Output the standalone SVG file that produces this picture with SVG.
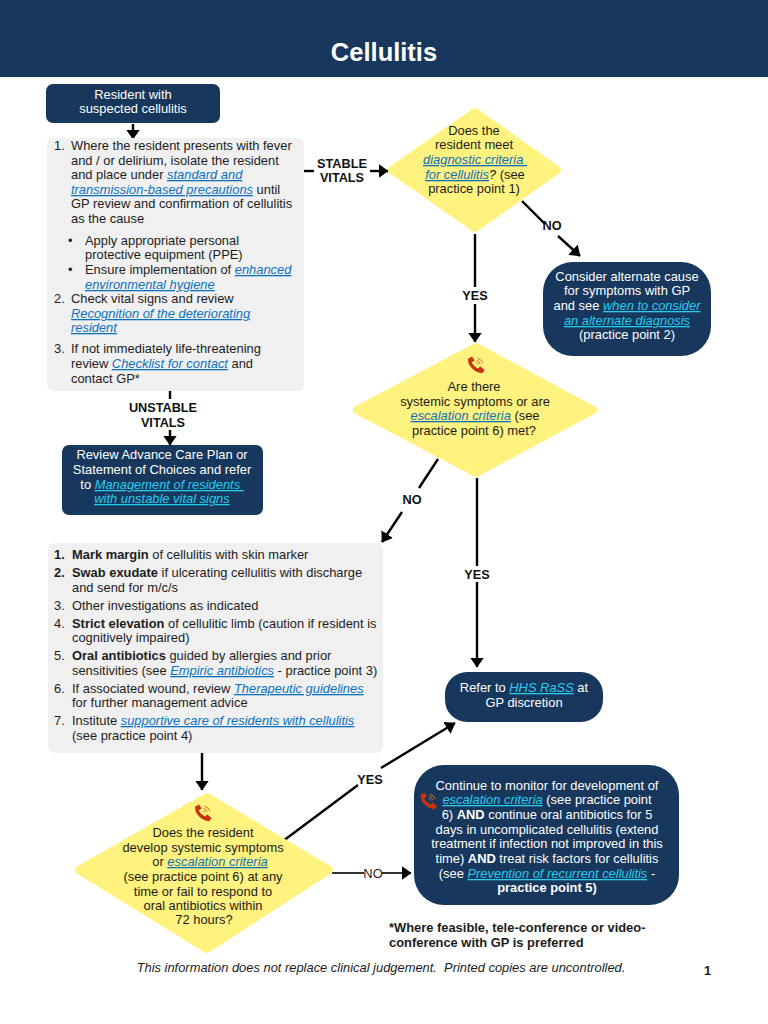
<svg xmlns="http://www.w3.org/2000/svg" width="768" height="1024" viewBox="0 0 768 1024">
<style>
text{font-family:"Liberation Sans",Arial,sans-serif;font-size:12.9px;fill:#1c1c1c}
.c{text-anchor:middle}
.w{fill:#fff}
.l{fill:#0a70c0;font-style:italic;text-decoration:underline}
.lw{fill:#25cdf0;font-style:italic;text-decoration:underline}
.i{font-style:italic}
.b{font-weight:700}
.lab{font-weight:700;text-anchor:middle;fill:#111;font-size:12.7px}
.dark{fill:#17375c}
.grey{fill:#f0f0f0}
.yel{fill:#fff27e;stroke:#fff27e;stroke-width:8;stroke-linejoin:round}
.ln{stroke:#000;stroke-width:2.4;fill:none}
.ah{fill:#000}
</style>
<defs>
<marker id="a" viewBox="0 0 10 14" refX="9.5" refY="7" markerWidth="10" markerHeight="14" markerUnits="userSpaceOnUse" orient="auto"><path class="ah" d="M0 0L10 7L0 14Z"/></marker>
<symbol id="ph" viewBox="0 0 20 20" overflow="visible">
<path d="M2.5 4C2 9 8 16 15.5 17" stroke="#c8340f" stroke-width="3.6" fill="none" stroke-linecap="round"/>
<path d="M0.5 3.5L5 0.5L8 5L4 7.5ZM11.5 14.5L14 11.5L19 15.5L16 19.5Z" fill="#c8340f"/>
<path d="M10 5A5 5 0 0 1 14 9M11 2.5A8 8 0 0 1 17 8M9.5 7.5A2.5 2.5 0 0 1 11.5 9.5" stroke="#d9762f" stroke-width="1.1" fill="none"/>
</symbol>
</defs>
<rect width="768" height="1024" fill="#fff"/>
<g id="header"><rect class="dark" width="768" height="77"/><text x="384" y="61" class="c w b" style="font-size:25.5px">Cellulitis</text></g>

<g id="connectors">
<path class="ln" marker-end="url(#a)" d="M133 124V139"/>
<path class="ln" d="M304 171H314"/>
<path class="ln" marker-end="url(#a)" d="M370 171H388"/>
<path class="ln" d="M522 201L545 224"/>
<path class="ln" marker-end="url(#a)" d="M558 236L580 256"/>
<path class="ln" d="M475 234V287"/>
<path class="ln" marker-end="url(#a)" d="M475 304V342"/>
<path class="ln" d="M170 391V399"/>
<path class="ln" marker-end="url(#a)" d="M170 430V445"/>
<path class="ln" d="M438 459L419 488"/>
<path class="ln" marker-end="url(#a)" d="M402 512L382 542"/>
<path class="ln" d="M477 478V566"/>
<path class="ln" marker-end="url(#a)" d="M477 582V667"/>
<path class="ln" marker-end="url(#a)" d="M202 753V790"/>
<path class="ln" d="M283 841L358 785"/>
<path class="ln" marker-end="url(#a)" d="M381 768L455 723"/>
<path class="ln" style="stroke-width:1.6" d="M332 873H364"/>
<path class="ln" style="stroke-width:1.6" marker-end="url(#a)" d="M382 873H411"/>
</g>

<g id="n-start"><rect class="dark" x="46" y="84" width="174" height="39" rx="7"/>
<text class="c w" x="133" y="99">Resident with</text><text class="c w" x="133" y="113">suspected cellulitis</text></g>

<g id="n-steps"><rect class="grey" x="47" y="138" width="257" height="253" rx="7"/>
<text x="54" y="150">1.</text>
<text x="71" y="150">Where the resident presents with fever</text>
<text x="71" y="165">and / or delirium, isolate the resident</text>
<text x="71" y="179">and place under <tspan class="l">standard and</tspan></text>
<text x="71" y="194"><tspan class="l">transmission-based precautions</tspan> until</text>
<text x="71" y="208">GP review and confirmation of cellulitis</text>
<text x="71" y="223">as the cause</text>
<text x="68" y="245">•</text>
<text x="85" y="245">Apply appropriate personal</text>
<text x="85" y="259">protective equipment (PPE)</text>
<text x="68" y="274">•</text>
<text x="85" y="274">Ensure implementation of <tspan class="l">enhanced</tspan></text>
<text x="85" y="289"><tspan class="l">environmental hygiene</tspan></text>
<text x="54" y="303">2.</text>
<text x="71" y="303">Check vital signs and review</text>
<text x="71" y="318"><tspan class="l">Recognition of the deteriorating</tspan></text>
<text x="71" y="332"><tspan class="l">resident</tspan></text>
<text x="54" y="353">3.</text>
<text x="71" y="353">If not immediately life-threatening</text>
<text x="71" y="368">review <tspan class="l">Checklist for contact</tspan> and</text>
<text x="71" y="383">contact GP*</text></g>

<g id="n-q1"><path class="yel" d="M475 112L557 170L475 228L392 170Z"/>
<text class="c" x="474" y="135">Does the</text>
<text class="c" x="474" y="149">resident meet</text>
<text class="c" x="475" y="164"><tspan class="l">diagnostic criteria&#160;</tspan></text>
<text class="c" x="475" y="179"><tspan class="l">for cellulitis</tspan><tspan class="i">?</tspan> (see</text>
<text class="c" x="474" y="193">practice point 1)</text></g>

<g id="n-alt"><rect class="dark" x="543" y="262" width="168" height="94" rx="30"/>
<text class="c w" x="627" y="281">Consider alternate cause</text>
<text class="c w" x="627" y="295">for symptoms with GP</text>
<text class="c w" x="627" y="310">and see <tspan class="lw">when to consider</tspan></text>
<text class="c w" x="627" y="325"><tspan class="lw">an alternate diagnosis</tspan></text>
<text class="c w" x="627" y="339">(practice point 2)</text></g>

<g id="n-q2"><path class="yel" d="M476 347L593 410L476 473L357 410Z"/>
<use href="#ph" x="466" y="356" width="21" height="18"/>
<text class="c" x="474" y="391">Are there</text>
<text class="c" x="475" y="406">systemic symptoms or are</text>
<text class="c" x="475" y="420"><tspan class="l">escalation criteria</tspan> (see</text>
<text class="c" x="474" y="435">practice point 6) met?</text></g>

<g id="n-acp"><rect class="dark" x="62" y="445" width="201" height="70" rx="7"/>
<text class="c w" x="162" y="459">Review Advance Care Plan or</text>
<text class="c w" x="162" y="474">Statement of Choices and refer</text>
<text class="c w" x="162" y="489">to <tspan class="lw">Management of residents&#160;</tspan></text>
<text class="c w" x="162" y="503"><tspan class="lw">with unstable vital signs</tspan></text></g>

<g id="n-actions"><rect class="grey" x="48" y="543" width="335" height="210" rx="7"/>
<text x="54" y="559" class="b">1.</text>
<text x="72" y="559"><tspan class="b">Mark margin</tspan> of cellulitis with skin marker</text>
<text x="54" y="577" class="b">2.</text>
<text x="72" y="577"><tspan class="b">Swab exudate</tspan> if ulcerating cellulitis with discharge</text>
<text x="72" y="592">and send for m/c/s</text>
<text x="54" y="610">3.</text>
<text x="72" y="610">Other investigations as indicated</text>
<text x="54" y="628">4.</text>
<text x="72" y="628"><tspan class="b">Strict elevation</tspan> of cellulitic limb (caution if resident is</text>
<text x="72" y="642">cognitively impaired)</text>
<text x="54" y="660">5.</text>
<text x="72" y="660"><tspan class="b">Oral antibiotics</tspan> guided by allergies and prior</text>
<text x="72" y="675">sensitivities (see <tspan class="l">Empiric antibiotics</tspan> - practice point 3)</text>
<text x="54" y="693">6.</text>
<text x="72" y="693">If associated wound, review <tspan class="l">Therapeutic guidelines</tspan></text>
<text x="72" y="707">for further management advice</text>
<text x="54" y="725">7.</text>
<text x="72" y="725">Institute <tspan class="l">supportive care of residents with cellulitis</tspan></text>
<text x="72" y="740">(see practice point 4)</text></g>

<g id="n-rass"><rect class="dark" x="445" y="672" width="158" height="50" rx="22"/>
<text class="c w" x="524" y="692">Refer to <tspan class="lw">HHS RaSS</tspan> at</text>
<text class="c w" x="524" y="707">GP discretion</text></g>

<g id="n-q3"><path class="yel" d="M207 797L329 870L207 949L79 870Z"/>
<use href="#ph" x="194" y="804" width="19" height="18"/>
<text class="c" x="203" y="837">Does the resident</text>
<text class="c" x="203" y="852">develop systemic symptoms</text>
<text class="c" x="210" y="866">or <tspan class="l">escalation criteria</tspan></text>
<text class="c" x="203" y="881">(see practice point 6) at any</text>
<text class="c" x="203" y="896">time or fail to respond to</text>
<text class="c" x="203" y="910">oral antibiotics within</text>
<text class="c" x="204" y="924">72 hours?</text></g>

<g id="n-monitor"><rect class="dark" x="414" y="765" width="265" height="140" rx="30"/>
<use href="#ph" x="419" y="792" width="20" height="18"/>
<text class="c w" x="547" y="790">Continue to monitor for development of</text>
<text class="c w" x="547" y="804"><tspan class="lw">escalation criteria</tspan> (see practice point</text>
<text class="c w" x="547" y="819">6) <tspan class="b">AND</tspan> continue oral antibiotics for 5</text>
<text class="c w" x="547" y="834">days in uncomplicated cellulitis (extend</text>
<text class="c w" x="547" y="848">treatment if infection not improved in this</text>
<text class="c w" x="547" y="863">time) <tspan class="b">AND</tspan> treat risk factors for cellulitis</text>
<text class="c w" x="547" y="878">(see <tspan class="lw">Prevention of recurrent cellulitis</tspan> -</text>
<text class="c w b" x="547" y="892">practice point 5)</text></g>

<g id="labels">
<text class="lab" x="342" y="168">STABLE</text><text class="lab" x="342" y="182">VITALS</text>
<text class="lab" x="552" y="230">NO</text>
<text class="lab" x="475" y="300">YES</text>
<text class="lab" x="163" y="412">UNSTABLE</text><text class="lab" x="163" y="427">VITALS</text>
<text class="lab" x="412" y="504">NO</text>
<text class="lab" x="477" y="579">YES</text>
<text class="lab" x="370" y="784">YES</text>
<text class="c" x="373" y="878">NO</text>
</g>
<g id="notes">
<text class="b" x="389" y="932">*Where feasible, tele-conference or video-</text>
<text class="b" x="389" y="947">conference with GP is preferred</text>
<text class="c" x="381" y="972" style="font-style:italic">This information does not replace clinical judgement.&#160; Printed copies are uncontrolled.</text>
<text class="b" x="704" y="975">1</text>
</g>
</svg>
